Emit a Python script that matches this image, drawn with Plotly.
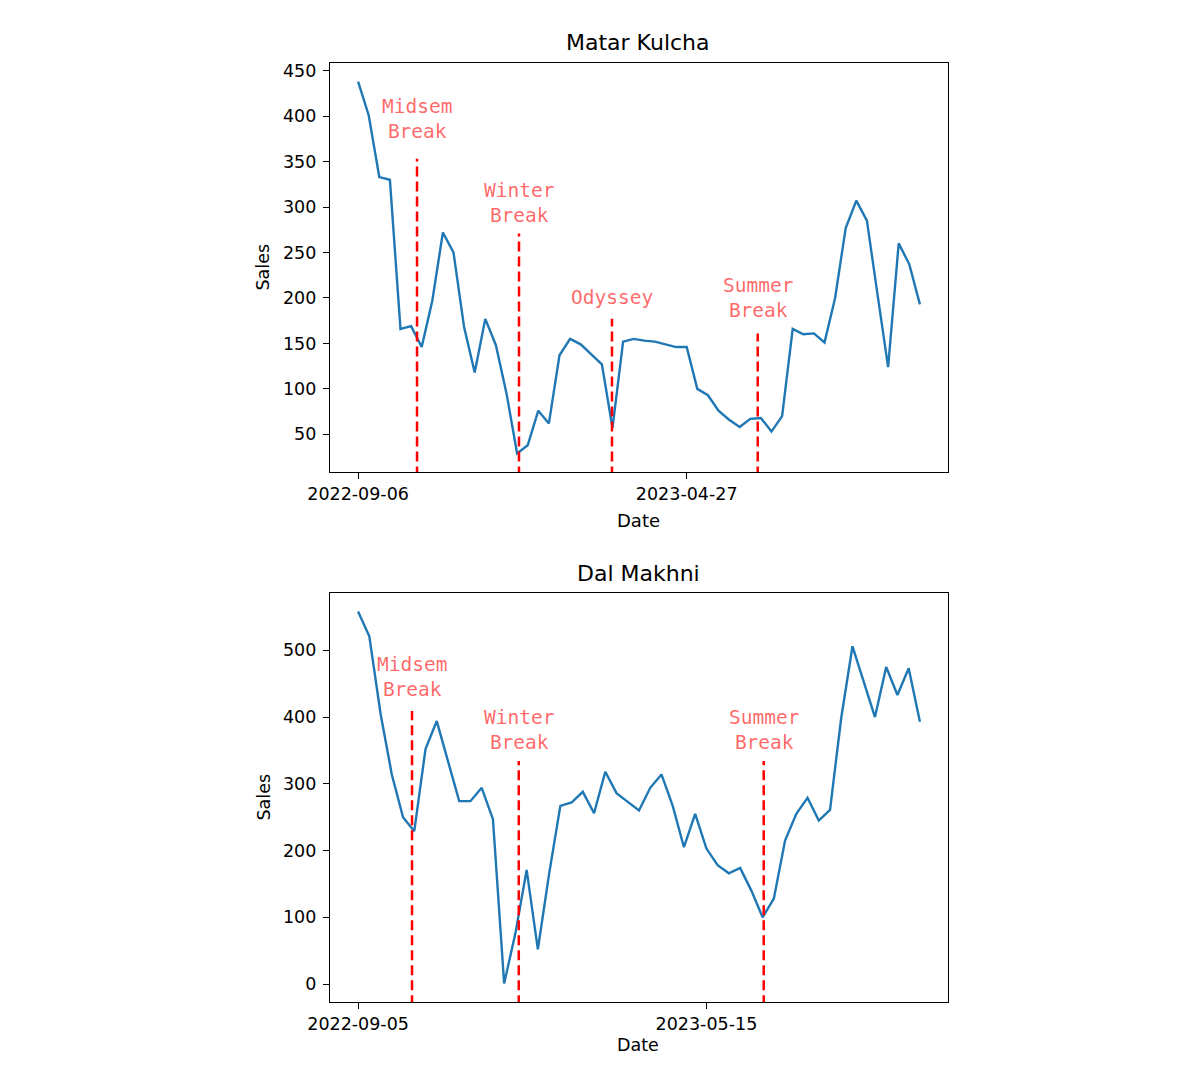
import plotly.graph_objects as go

# Matar Kulcha (weekly sales, top panel)
mk_sales = [438, 401, 333, 330, 166, 169, 146, 197, 272, 250,
            168, 118, 177, 148, 95, 29, 38, 76, 62, 137,
            155, 149, 138, 127, 57, 152, 155, 153, 152, 149,
            146, 146, 100, 93, 76, 66, 58, 67, 68, 53,
            70, 166, 160, 161, 151, 200, 277, 307, 285, 204,
            124, 260, 237, 193]
mk_ticks = [0, 31]
mk_ticktext = ["2022-09-06", "2023-04-27"]
mk_events = ["Midsem<br>Break", "Winter<br>Break", "Odyssey", "Summer<br>Break"]
mk_event_x = [5.56, 15.18, 23.95, 37.7]
mk_event_top = [353, 271, 177, 161]
mk_event_text_y = [397, 305, 200, 200]

# Dal Makhni (weekly sales, bottom panel)
dm_sales = [558, 521, 405, 314, 250, 229, 352, 394, 334, 274,
            274, 294, 247, 1, 76, 171, 52, 165, 267, 272,
            288, 256, 318, 286, 273, 260, 294, 314, 267, 205,
            255, 203, 178, 166, 174, 140, 100, 128, 215, 255,
            279, 245, 261, 399, 506, 454, 400, 475, 433, 473, 393]
dm_ticks = [0, 31]
dm_ticktext = ["2022-09-05", "2023-05-15"]
dm_events = ["Midsem<br>Break", "Winter<br>Break", "Summer<br>Break"]
dm_event_x = [4.8, 14.3, 36.1]
dm_event_top = [409, 334, 334]
dm_event_text_y = [460, 381, 381]

# the page puts the figure 8px in from the top-left corner
OFF = 8
W, H = 1184, 1050
FONT = "DejaVu Sans"
BLUE = "#1f77b4"


def px_x(p):
    return (p - OFF) / W


def px_y(p):
    return 1 - (p - OFF) / H


fig = go.Figure()

panels = [
    ("x", "y", mk_sales, mk_events, mk_event_x, mk_event_top, mk_event_text_y),
    ("x2", "y2", dm_sales, dm_events, dm_event_x, dm_event_top, dm_event_text_y),
]

ranges = []
for xa, ya, sales, events, ex, etop, etext in panels:
    n = len(sales)
    lo, hi = min(sales), max(sales)
    pad = 0.05 * (hi - lo)
    yr = [lo - pad, hi + pad]
    xr = [-0.05 * (n - 1), (n - 1) * 1.05]
    ranges.append((xr, yr))

    fig.add_trace(go.Scatter(x=list(range(n)), y=sales, mode="lines",
                             line=dict(color=BLUE, width=2.4),
                             xaxis=xa, yaxis=ya, showlegend=False))
    for name, x0, top, ty in zip(events, ex, etop, etext):
        fig.add_trace(go.Scatter(x=[x0, x0], y=[yr[0] - 5, top], mode="lines",
                                 line=dict(color="red", width=2.5, dash="10px,5px"),
                                 xaxis=xa, yaxis=ya, showlegend=False))
        fig.add_annotation(x=x0, y=ty, xref=xa, yref=ya, text=name,
                           showarrow=False, xanchor="center", yanchor="middle",
                           font=dict(family="DejaVu Sans Mono", size=19.5,
                                     color="rgba(255,0,0,0.6)"))

axis_common = dict(showline=True, linecolor="black", linewidth=1.3, mirror=True,
                   ticks="outside", ticklen=6, tickwidth=1.3, tickcolor="black",
                   showgrid=False, zeroline=False, automargin=False,
                   tickfont=dict(family=FONT, size=17.5, color="black"))

xdom = [px_x(330), px_x(948)]
top_dom = [px_y(472), px_y(63)]
bot_dom = [px_y(1002), px_y(593)]

fig.update_layout(
    width=W, height=H,
    margin=dict(l=0, r=0, t=0, b=0, pad=0),
    showlegend=False,
    paper_bgcolor="white", plot_bgcolor="white",
    xaxis=dict(domain=xdom, anchor="y", range=ranges[0][0],
               tickvals=mk_ticks, ticktext=mk_ticktext, **axis_common),
    yaxis=dict(domain=top_dom, anchor="x", range=ranges[0][1],
               tick0=50, dtick=50, ticklabelstandoff=3, **axis_common),
    xaxis2=dict(domain=xdom, anchor="y2", range=ranges[1][0],
                tickvals=dm_ticks, ticktext=dm_ticktext, **axis_common),
    yaxis2=dict(domain=bot_dom, anchor="x2", range=ranges[1][1],
                tick0=0, dtick=100, ticklabelstandoff=3, **axis_common),
)

labels = [
    ("Matar Kulcha", 638, 43, 22, 0),
    ("Dal Makhni", 638, 573, 22, 0),
    ("Date", 638, 520, 18, 0),
    ("Date", 638, 1045, 17.5, 0),
    ("Sales", 263, 267.5, 17.5, -90),
    ("Sales", 263, 797.5, 17.5, -90),
]
for text, px, py, size, ang in labels:
    fig.add_annotation(x=px_x(px), y=px_y(py), xref="paper", yref="paper",
                       text=text, showarrow=False, textangle=ang,
                       xanchor="center", yanchor="middle",
                       font=dict(family=FONT, size=size, color="black"))

fig.write_html("out.html")
